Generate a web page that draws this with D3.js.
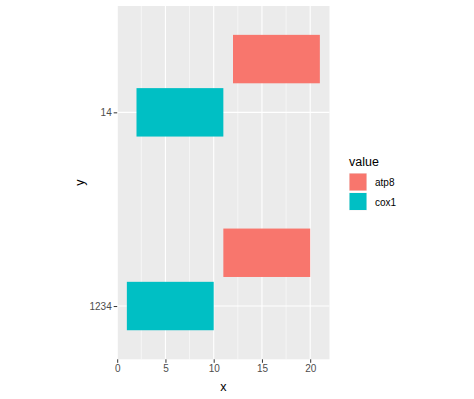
<!DOCTYPE html>
<html>
<head>
<meta charset="utf-8">
<script src="https://cdn.jsdelivr.net/npm/d3@7"></script>
<style>
  body { margin: 0; background: #fff; }
  svg text { font-family: "Liberation Sans", Arial, sans-serif; }
</style>
</head>
<body>
<div id="chart"></div>
<script>
// y categories, bottom to top
const yLevels = ["1234", "14"];
const series = ["atp8", "cox1"];
const colors = ["#F8766D", "#00BFC4"];
const xTicks = [0, 5, 10, 15, 20];

// one rect per row: category, series, x start/end, y offsets around the level
const rectY = ["1234", "1234", "14", "14"];
const rectValue = ["cox1", "atp8", "cox1", "atp8"];
const rectXmin = [1, 11, 2, 12];
const rectXmax = [10, 20, 11, 21];
const rectYmin = [-0.125, 0.15, -0.125, 0.15];
const rectYmax = [0.125, 0.4, 0.125, 0.4];

const width = 474, height = 399;
const panel = {left: 117.2, right: 329.5, top: 6, bottom: 359.3};

const svg = d3.select("#chart").append("svg")
    .attr("width", width)
    .attr("height", height);

let x = d3.scaleLinear().domain([0, 22]).range([panel.left, panel.right]);
let y = d3.scaleLinear().domain([0.725, 2.549]).range([panel.bottom, panel.top]);
let level = d => yLevels.indexOf(d) + 1;
let color = d3.scaleOrdinal().domain(series).range(colors);

svg.append("rect")
    .attr("x", panel.left).attr("y", panel.top)
    .attr("width", panel.right - panel.left)
    .attr("height", panel.bottom - panel.top)
    .attr("fill", "#EBEBEB");

// minor grid
let minor = d3.range(0, 22, 2.5).filter((v, i) => i % 2 == 1);
svg.append("g").selectAll("line").data(minor).enter().append("line")
    .attr("x1", d => x(d)).attr("x2", d => x(d))
    .attr("y1", panel.top).attr("y2", panel.bottom)
    .attr("stroke", "#fff").attr("stroke-width", 0.55);

// major grid
svg.append("g").selectAll("line").data(xTicks).enter().append("line")
    .attr("x1", d => x(d)).attr("x2", d => x(d))
    .attr("y1", panel.top).attr("y2", panel.bottom)
    .attr("stroke", "#fff").attr("stroke-width", 1.1);
svg.append("g").selectAll("line").data(yLevels).enter().append("line")
    .attr("x1", panel.left).attr("x2", panel.right)
    .attr("y1", d => y(level(d))).attr("y2", d => y(level(d)))
    .attr("stroke", "#fff").attr("stroke-width", 1.1);

let rects = rectY.map((c, i) => ({
  cat: c, value: rectValue[i],
  xmin: rectXmin[i], xmax: rectXmax[i],
  ymin: level(c) + rectYmin[i], ymax: level(c) + rectYmax[i]
}));

svg.append("g").selectAll("rect").data(rects).enter().append("rect")
    .attr("x", d => x(d.xmin))
    .attr("width", d => x(d.xmax) - x(d.xmin))
    .attr("y", d => y(d.ymax))
    .attr("height", d => y(d.ymin) - y(d.ymax))
    .attr("fill", d => color(d.value));

// axes
let xAxis = svg.append("g")
    .attr("transform", `translate(0,${panel.bottom})`)
    .call(d3.axisBottom(x).tickValues(xTicks).tickSize(3.5).tickPadding(2));
let yAxis = svg.append("g")
    .attr("transform", `translate(${panel.left},0)`)
    .call(d3.axisLeft(d3.scaleOrdinal().domain(yLevels).range(yLevels.map(d => y(level(d)))))
      .tickSize(3.5).tickPadding(2));
[xAxis, yAxis].forEach(a => {
  a.select(".domain").remove();
  a.selectAll(".tick line").attr("stroke", "#333").attr("stroke-width", 1);
  a.selectAll(".tick text").attr("fill", "#4D4D4D").style("font-size", "10px");
});

svg.append("text")
    .attr("x", (panel.left + panel.right) / 2).attr("y", 391)
    .attr("text-anchor", "middle").style("font-size", "12.5px")
    .text("x");
svg.append("text")
    .attr("transform", `translate(84,${(panel.top + panel.bottom) / 2}) rotate(-90)`)
    .attr("text-anchor", "middle").style("font-size", "12.5px")
    .text("y");

// legend
let legend = svg.append("g").attr("transform", "translate(349,150)");
legend.append("text").attr("x", 0).attr("y", 16)
    .style("font-size", "12.5px").text("value");
let keys = legend.selectAll("g.key").data(series).enter().append("g")
    .attr("class", "key")
    .attr("transform", (d, i) => `translate(0,${23 + i * 19.5})`);
keys.append("rect").attr("width", 18).attr("height", 18)
    .attr("fill", "#F2F2F2");
keys.append("rect").attr("x", 0.5).attr("y", 0.5).attr("width", 17).attr("height", 17)
    .attr("fill", d => color(d));
keys.append("text").attr("x", 26).attr("y", 13)
    .style("font-size", "10px").attr("fill", "#000").text(d => d);
</script>
</body>
</html>
